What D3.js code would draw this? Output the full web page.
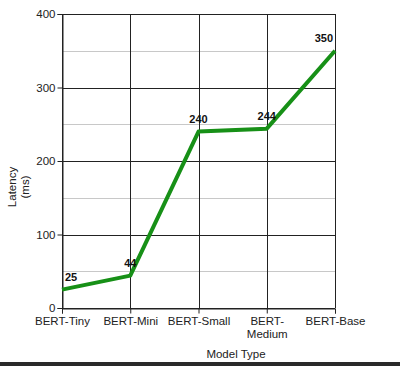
<!DOCTYPE html>
<html>
<head>
<meta charset="utf-8">
<script src="https://cdn.jsdelivr.net/npm/d3@7"></script>
<style>
  body { margin: 0; background: #fff; }
  svg { display: block; font-family: "Liberation Sans", Arial, sans-serif; }
</style>
</head>
<body>
<svg id="chart" width="400" height="366"></svg>
<script>
var width = 400
var height = 366

// data
var models = ["BERT-Tiny", "BERT-Mini", "BERT-Small", "BERT-Medium", "BERT-Base"]
var latency = [25, 44, 240, 244, 350]
var majorTicks = [0, 100, 200, 300, 400]
var minorTicks = [50, 150, 250, 350]

var margin = {top: 14, right: 65, bottom: 58, left: 62}

var svg = d3.select("svg#chart")

var x = d3.scalePoint()
    .domain(models)
    .range([margin.left, width - margin.right])

var y = d3.scaleLinear()
    .domain([0, 400])
    .range([height - margin.bottom, margin.top])

// minor horizontal grid
svg.append("g")
    .attr("stroke", "#c8c8c8")
    .attr("stroke-width", 1)
  .selectAll("line")
  .data(minorTicks)
  .enter().append("line")
    .attr("x1", x.range()[0])
    .attr("x2", x.range()[1])
    .attr("y1", d => Math.round(y(d)) + 0.5)
    .attr("y2", d => Math.round(y(d)) + 0.5)

// major horizontal grid
svg.append("g")
    .attr("stroke", "#222")
    .attr("stroke-width", 1)
  .selectAll("line")
  .data(majorTicks)
  .enter().append("line")
    .attr("x1", x.range()[0])
    .attr("x2", x.range()[1])
    .attr("y1", d => Math.round(y(d)) + 0.5)
    .attr("y2", d => Math.round(y(d)) + 0.5)

// vertical grid
svg.append("g")
    .attr("stroke", "#222")
    .attr("stroke-width", 1)
  .selectAll("line")
  .data(models)
  .enter().append("line")
    .attr("x1", d => Math.round(x(d)) + 0.5)
    .attr("x2", d => Math.round(x(d)) + 0.5)
    .attr("y1", y(0))
    .attr("y2", y(400))

// y axis
var yAxis = svg.append("g")
    .attr("transform", `translate(${margin.left + 0.5},0)`)
    .call(d3.axisLeft(y).tickValues(majorTicks).tickSize(5).tickPadding(2))
yAxis.select(".domain").attr("stroke", "#222")
yAxis.selectAll(".tick line").attr("stroke", "#222")
yAxis.selectAll("text")
    .attr("font-size", 11.5)
    .attr("fill", "#222")
    .attr("font-family", "Liberation Sans, Arial, sans-serif")

// x axis
var xAxis = svg.append("g")
    .attr("transform", `translate(0,${Math.round(y(0)) + 0.5})`)
    .call(d3.axisBottom(x).tickSize(5).tickPadding(3))
xAxis.select(".domain").attr("stroke", "#222")
xAxis.selectAll(".tick line").attr("stroke", "#222")
xAxis.selectAll("text")
    .attr("font-size", 11.5)
    .attr("fill", "#222")
    .attr("font-family", "Liberation Sans, Arial, sans-serif")
    .each(function(d) {
      // wrap the long label like the original does
      if (d === "BERT-Medium") {
        var t = d3.select(this).text(null)
        t.append("tspan").attr("x", 0).attr("dy", "0.71em").text("BERT-")
        t.append("tspan").attr("x", 0).attr("dy", "1.15em").text("Medium")
      }
    })

// axis titles
svg.append("text")
    .attr("x", 236)
    .attr("y", 358)
    .attr("text-anchor", "middle")
    .attr("font-size", 11.5)
    .attr("fill", "#222")
    .text("Model Type")

var yTitle = svg.append("text")
    .attr("transform", "translate(17,187) rotate(-90)")
    .attr("text-anchor", "middle")
    .attr("font-size", 11.5)
    .attr("fill", "#222")
yTitle.append("tspan").attr("x", 0).attr("dy", "-0.1em").text("Latency")
yTitle.append("tspan").attr("x", 0).attr("dy", "1.1em").text("(ms)")

// the line
var line = d3.line()
    .x((d, i) => x(models[i]))
    .y(d => y(d))

svg.append("path")
    .datum(latency)
    .attr("fill", "none")
    .attr("stroke", "#179017")
    .attr("stroke-width", 4)
    .attr("stroke-linejoin", "round")
    .attr("d", line)

// value labels
var last = latency.length - 1
svg.append("g")
    .attr("font-size", 11)
    .attr("font-weight", "bold")
    .attr("fill", "#111")
  .selectAll("text")
  .data(latency)
  .enter().append("text")
    .attr("x", (d, i) => x(models[i]) + (i === 0 ? 3 : i === last ? -2 : 0))
    .attr("y", d => y(d) - 9)
    .attr("text-anchor", (d, i) => i === 0 ? "start" : i === last ? "end" : "middle")
    .text(d => d)

// dark strip at the bottom edge of the shot
svg.append("rect")
    .attr("x", 0)
    .attr("y", 362)
    .attr("width", width)
    .attr("height", 4)
    .attr("fill", "#2a2a2a")
</script>
</body>
</html>
